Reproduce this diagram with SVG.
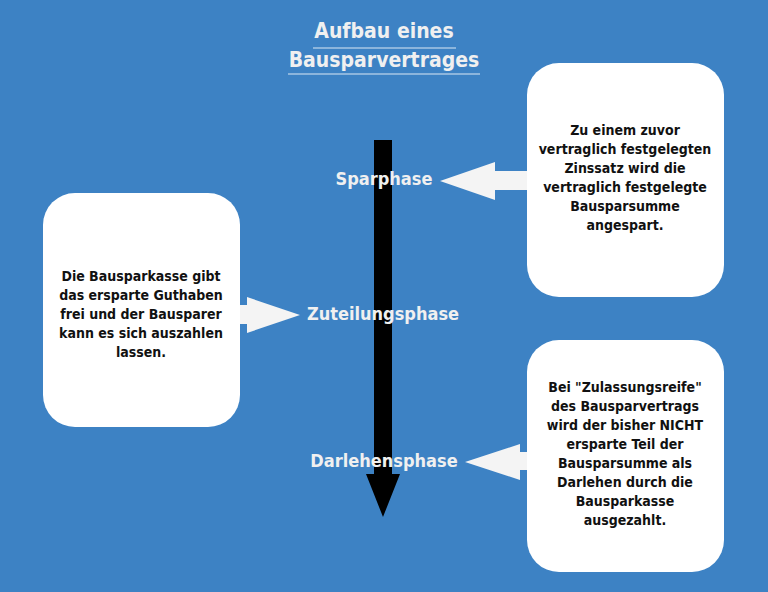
<svg xmlns="http://www.w3.org/2000/svg" width="768" height="592" viewBox="0 0 768 592">
<style>
.t{font-family:"DejaVu Sans Condensed","DejaVu Sans",sans-serif;font-weight:bold;text-anchor:middle}
.w{fill:#f4f4f4}
.box{fill:#ffffff}
.bt{font-size:14px;fill:#111}
.ph{font-size:18px;fill:#f0f0f0}
</style>
<rect width="768" height="592" fill="#3d82c4"/>
<g id="title">
<text class="t ph" x="384" y="38" font-size="21" style="font-size:21px">Aufbau eines</text>
<text class="t ph" x="384" y="67" style="font-size:21px">Bausparvertrages</text>
<line x1="313" y1="48" x2="456" y2="48" stroke="#dce8f4" stroke-width="1.2"/>
<line x1="288" y1="74" x2="480" y2="74" stroke="#dce8f4" stroke-width="1.2"/>
</g>
<g id="connectors">
<polygon points="374,140 392,140 392,474 400,474 383,517 366,474 374,474" fill="#000"/>
<polygon class="w" points="527,171 495,171 495,162 440,181 495,200 495,190 527,190"/>
<polygon class="w" points="240,305 247,305 247,297 300,315 247,333 247,324 240,324"/>
<polygon class="w" points="527,452 520,452 520,444 465,462 520,480 520,470 527,470"/>
</g>
<g id="sparphase"><text class="t ph" x="384" y="185">Sparphase</text></g>
<g id="zuteilungsphase"><text class="t ph" x="383" y="320">Zuteilungsphase</text></g>
<g id="darlehensphase"><text class="t ph" x="384" y="467">Darlehensphase</text></g>
<g id="box-left">
<rect class="box" x="43" y="193" width="197" height="234" rx="32"/>
<text class="t bt" x="141" y="281">Die Bausparkasse gibt</text>
<text class="t bt" x="141" y="300">das ersparte Guthaben</text>
<text class="t bt" x="141" y="319">frei und der Bausparer</text>
<text class="t bt" x="141" y="338">kann es sich auszahlen</text>
<text class="t bt" x="141" y="357">lassen.</text>
</g>
<g id="box-top-right">
<rect class="box" x="527" y="63" width="197" height="234" rx="32"/>
<text class="t bt" x="625" y="135">Zu einem zuvor</text>
<text class="t bt" x="625" y="154">vertraglich festgelegten</text>
<text class="t bt" x="625" y="173">Zinssatz wird die</text>
<text class="t bt" x="625" y="192">vertraglich festgelegte</text>
<text class="t bt" x="625" y="211">Bausparsumme</text>
<text class="t bt" x="625" y="230">angespart.</text>
</g>
<g id="box-bottom-right">
<rect class="box" x="527" y="340" width="197" height="232" rx="32"/>
<text class="t bt" x="625" y="392">Bei "Zulassungsreife"</text>
<text class="t bt" x="625" y="411">des Bausparvertrags</text>
<text class="t bt" x="625" y="430">wird der bisher NICHT</text>
<text class="t bt" x="625" y="449">ersparte Teil der</text>
<text class="t bt" x="625" y="468">Bausparsumme als</text>
<text class="t bt" x="625" y="487">Darlehen durch die</text>
<text class="t bt" x="625" y="506">Bausparkasse</text>
<text class="t bt" x="625" y="525">ausgezahlt.</text>
</g>
</svg>
